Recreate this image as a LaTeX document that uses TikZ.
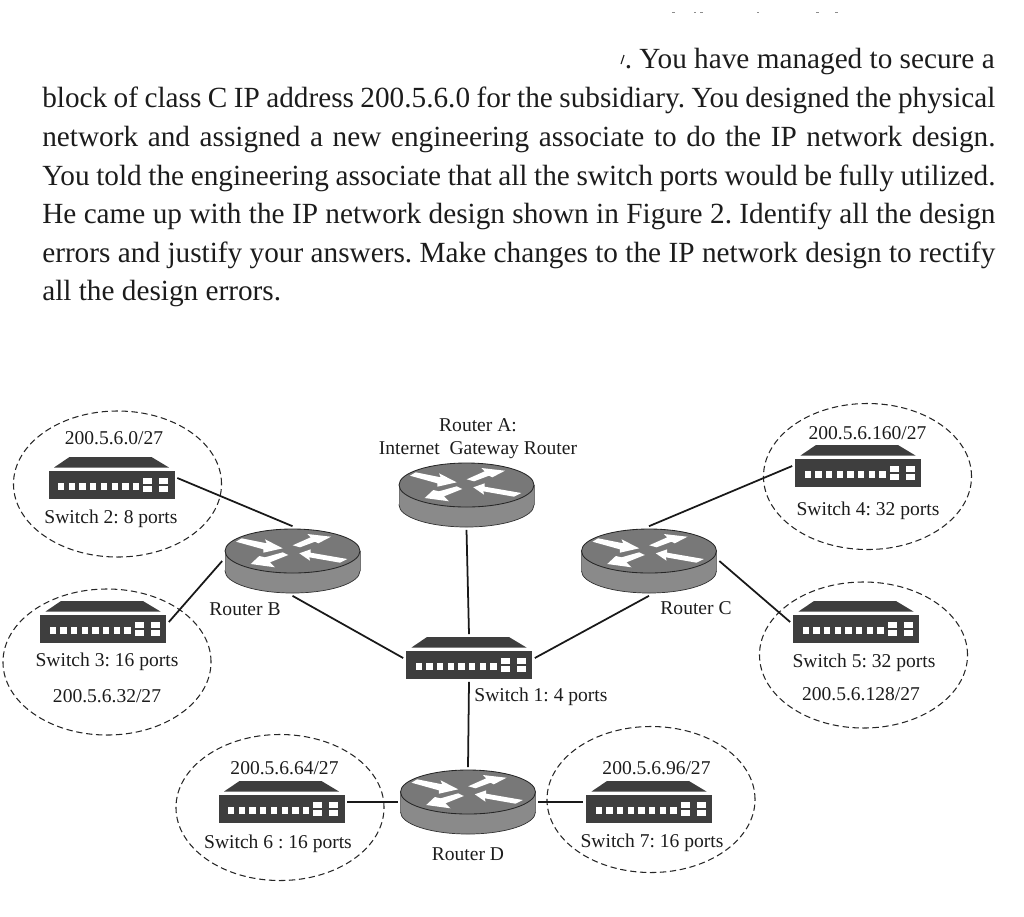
\documentclass[tikz,border=0pt]{standalone}
\usepackage{fontspec}
\setmainfont{Liberation Serif}
\usetikzlibrary{shapes.geometric}
\frenchspacing
\definecolor{darkbox}{HTML}{3E3E3E}
\definecolor{routertop}{HTML}{787878}
\definecolor{routerside}{HTML}{8A8A8A}
\definecolor{inktext}{HTML}{1C1C1C}
\tikzset{
  routernode/.style={ellipse,minimum width=3.375cm,minimum height=1.6cm,inner sep=0pt,outer sep=2pt},
  switchnode/.style={rectangle,minimum width=3.15cm,minimum height=1.05cm,inner sep=0pt,outer sep=2pt},
  subnet/.style={ellipse,draw=black!85,line width=0.75pt,dash pattern=on 4.5pt off 2.6pt,minimum width=5.2cm,minimum height=3.65cm,inner sep=0pt},
  lbl/.style={font=\fontsize{13.9}{16}\selectfont,text=inktext,inner sep=0pt},
  link/.style={line width=1.25pt,black!90},
  pics/router/.style={code={
    \fill[routerside,draw=black!80,line width=0.5pt] (0,10) ellipse [x radius=67.5,y radius=22];
    \fill[routerside] (-67.5,-10) rectangle (67.5,10);
    \draw[black!55,line width=0.4pt] (-67.5,-10) -- (-67.5,10) (67.5,-10) -- (67.5,10);
    \fill[routertop,draw=black!85,line width=0.6pt] (0,-10) ellipse [x radius=67.5,y radius=22];
    \fill[white] (-56.5,-19.3) -- (-50.8,-22.7) -- (-25.8,-17.7) -- (-27.5,-21.7) -- (-9.8,-12.7) -- (-29.2,-8.3) -- (-29.2,-11.7) -- cycle;
    \fill[white] (0.2,-15.7) -- (18.2,-23.7) -- (14.8,-27) -- (38.5,-24.3) -- (25.8,-17.7) -- (22.5,-19.3) -- (7.5,-13.7) -- cycle;
    \fill[white] (6.8,-7.7) -- (18.2,-11.7) -- (18.2,-8.3) -- (54.8,-2) -- (47.5,1.7) -- (16.8,-3.7) -- (17.5,-0.3) -- cycle;
    \fill[white] (-41.8,3) -- (-33.2,-5) -- (-27.5,-3.7) -- (-9.8,-8.7) -- (-4.2,-6) -- (-22.5,1.3) -- (-17.5,6.3) -- cycle;
  }},
  pics/switch/.style={code={
    \fill[darkbox] (-57.5,-10.5) -- (-42,-21) -- (40,-21) -- (57.5,-10.5) -- cycle;
    \fill[darkbox] (-63,-7) rectangle (63,21);
    \foreach \k in {0,...,7}
      \fill[white] ({-53.5+10.7*\k},5.3) rectangle ++(6.3,6.3);
    \foreach \px in {31.5,47.5}
      \foreach \py in {0,8}
        \fill[white] (\px,\py) rectangle ++(9,5.6);
  }}
}
\begin{document}
\begin{tikzpicture}[x=0.025cm,y=-0.025cm]
\useasboundingbox (0,0) rectangle (1024,916);

% scraps of the cut off line
\foreach \sx/\sw in {672/3,694/2,700/3,757/2,816/3,835/3}
  \fill[black!45] (\sx,12) rectangle ++(\sw,1);
\draw[inktext,line width=0.8pt] (624,55) -- (621,64);

% the question
\node[anchor=east,inner sep=0pt,font=\fontsize{20.8}{27.5}\selectfont,text=inktext] (line1) at (995,62) {. You have managed to secure a};
\node[anchor=north west,inner sep=0pt,text width=23.825cm,align=justify,font=\fontsize{20.8}{27.46}\selectfont,text=inktext] (question) at (42,87) {block of class C IP address 200.5.6.0 for the subsidiary. You designed the physical\linebreak
network and assigned a new engineering associate to do the IP network design.\linebreak
You told the engineering associate that all the switch ports would be fully utilized.\linebreak
He came up with the IP network design shown in Figure 2. Identify all the design\linebreak
errors and justify your answers. Make changes to the IP network design to rectify\linebreak
all the design errors.};

% dashed subnets
\node[subnet] (net2) at (117.5,484) {};
\node[subnet] (net3) at (107,662) {};
\node[subnet] (net4) at (867.5,476.5) {};
\node[subnet] (net5) at (863.5,655) {};
\node[subnet] (net6) at (280,807.5) {};
\node[subnet] (net7) at (651,799.5) {};

% routers
\node[routernode] (routerA) at (466.5,495) {};
\node[routernode] (routerB) at (292.5,561) {};
\node[routernode] (routerC) at (649,561) {};
\node[routernode] (routerD) at (468,802) {};
\foreach \r in {routerA,routerB,routerC,routerD}
  \pic at (\r) {router};

% switches
\node[switchnode] (switch1) at (469,658) {};
\node[switchnode] (switch2) at (111.5,478) {};
\node[switchnode] (switch3) at (103,622) {};
\node[switchnode] (switch4) at (858,466) {};
\node[switchnode] (switch5) at (856,622) {};
\node[switchnode] (switch6) at (281.5,802) {};
\node[switchnode] (switch7) at (649,802) {};
\foreach \s in {switch1,switch2,switch3,switch4,switch5,switch6,switch7}
  \pic at (\s) {switch};

\draw[link] (routerA.south) to (switch1.north);
\draw[link] (switch2.east) to (routerB.north);
\draw[link] (switch3.east) to (routerB.west);
\draw[link] (routerB.south) to (switch1.west);
\draw[link] (routerC.north) to (switch4.west);
\draw[link] (routerC.east) to (switch5.west);
\draw[link] (routerC.south) to (switch1.east);
\draw[link] (switch1.south) to (routerD.north);
\draw[link] (switch6.east) to (routerD.west);
\draw[link] (routerD.east) to (switch7.west);

% labels
\node[lbl] (labelA1) at (478,425) {Router A:};
\node[lbl] (labelA2) at (478,450) {Internet\ \ Gateway Router};
\node[lbl] (labelB) at (245,609) {Router B};
\node[lbl] (labelC) at (696,608) {Router C};
\node[lbl] (labelD) at (468,854) {Router D};
\node[lbl] (label1) at (541,697) {Switch 1: 4 ports};
\node[lbl] (label2) at (111,519) {Switch 2: 8 ports};
\node[lbl] (label3) at (107,662) {Switch 3: 16 ports};
\node[lbl] (label4) at (868,511) {Switch 4: 32 ports};
\node[lbl] (label5) at (864,663) {Switch 5: 32 ports};
\node[lbl] (label6) at (278,844) {Switch 6 : 16 ports};
\node[lbl] (label7) at (652,843) {Switch 7: 16 ports};
\node[lbl] (ip2) at (114,438) {200.5.6.0/27};
\node[lbl] (ip3) at (107,696) {200.5.6.32/27};
\node[lbl] (ip4) at (867.5,433) {200.5.6.160/27};
\node[lbl] (ip5) at (861,694) {200.5.6.128/27};
\node[lbl] (ip6) at (284.5,768) {200.5.6.64/27};
\node[lbl] (ip7) at (656.5,768) {200.5.6.96/27};
\end{tikzpicture}
\end{document}
